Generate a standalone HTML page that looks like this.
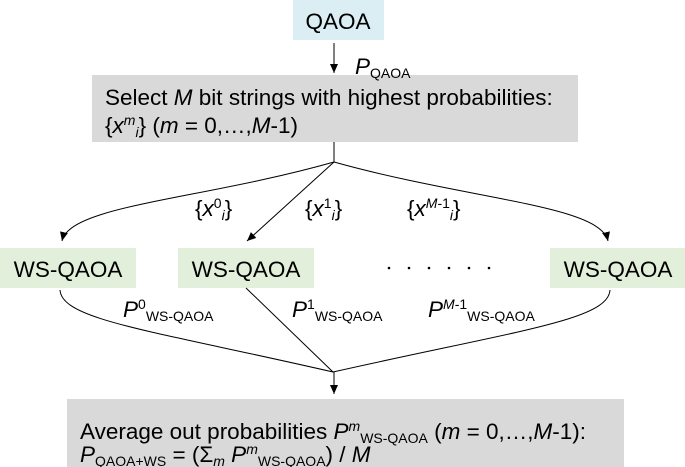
<!DOCTYPE html>
<html><head><style>
body{margin:0;width:685px;height:467px;background:#fff;position:relative;overflow:hidden;font-family:"Liberation Sans",Arial,sans-serif;color:#000}
.b{position:absolute}
svg{position:absolute;left:0;top:0}
</style></head><body>
<div class="b" style="left:293px;top:0;width:91px;height:40px;background:#dbeef4"></div>
<div class="b" style="left:92px;top:75px;width:486px;height:67px;background:#d9d9d9"></div>
<div class="b" style="left:0;top:248px;width:136px;height:40px;background:#e2efda"></div>
<div class="b" style="left:178px;top:248px;width:136px;height:40px;background:#e2efda"></div>
<div class="b" style="left:550px;top:248px;width:135px;height:40px;background:#e2efda"></div>
<div class="b" style="left:67px;top:399px;width:557px;height:68px;background:#d9d9d9"></div>
<svg width="685" height="467" viewBox="0 0 685 467">
<defs><marker id="a" markerWidth="10" markerHeight="10" refX="9" refY="5" orient="auto" markerUnits="userSpaceOnUse"><path d="M0,1 L9,5 L0,9 z" fill="#000"/></marker></defs>
<g stroke="#000" stroke-width="1" fill="none">
<line x1="334" y1="43" x2="334" y2="73" marker-end="url(#a)"/>
<line x1="334" y1="142" x2="334" y2="162"/>
<path d="M334,162 C200,200 70,205 62,241" marker-end="url(#a)"/>
<line x1="334" y1="162" x2="247" y2="241" marker-end="url(#a)"/>
<path d="M334,162 C470,200 600,205 608,241" marker-end="url(#a)"/>
<path d="M60,290 C62,320 150,330 333,372"/>
<line x1="246" y1="288" x2="333" y2="372"/>
<path d="M610,290 C608,320 520,330 333,372"/>
<line x1="334" y1="372" x2="334" y2="394" marker-end="url(#a)"/>
</g>
<g fill="#000">
<circle cx="389" cy="268" r="1.3"/><circle cx="409" cy="268" r="1.3"/><circle cx="429" cy="268" r="1.3"/><circle cx="449" cy="268" r="1.3"/><circle cx="469" cy="268" r="1.3"/><circle cx="489" cy="268" r="1.3"/>
</g>
<g font-family="Liberation Sans, Arial, sans-serif" font-size="22.5">
<text x="338" y="29" text-anchor="middle">QAOA</text>
<text x="355" y="74" font-style="italic">P<tspan font-size="14" font-style="normal" dy="4">QAOA</tspan></text>
<text x="105" y="105">Select <tspan font-style="italic">M</tspan> bit strings with highest probabilities:</text>
<text x="105" y="133">{<tspan font-style="italic">x<tspan font-size="14" dy="-8">m</tspan><tspan font-size="14" dy="12">i</tspan></tspan><tspan dy="-4">} (</tspan><tspan font-style="italic">m</tspan> = 0,…,<tspan font-style="italic">M</tspan>-1)</text>
<text x="195" y="216">{<tspan font-style="italic">x</tspan><tspan font-size="14" dy="-8">0</tspan><tspan font-size="14" font-style="italic" dy="12">i</tspan><tspan dy="-4">}</tspan></text>
<text x="305" y="216">{<tspan font-style="italic">x</tspan><tspan font-size="14" dy="-8">1</tspan><tspan font-size="14" font-style="italic" dy="12">i</tspan><tspan dy="-4">}</tspan></text>
<text x="407" y="216">{<tspan font-style="italic">x</tspan><tspan font-size="14" font-style="italic" dy="-8">M</tspan><tspan font-size="14" dy="0">-1</tspan><tspan font-size="14" font-style="italic" dy="12">i</tspan><tspan dy="-4">}</tspan></text>
<text x="68" y="277" text-anchor="middle">WS-QAOA</text>
<text x="246" y="277" text-anchor="middle">WS-QAOA</text>
<text x="618" y="277" text-anchor="middle">WS-QAOA</text>
<text x="123" y="317"><tspan font-style="italic">P</tspan><tspan font-size="14" dy="-8">0</tspan><tspan font-size="14" dy="12">WS-QAOA</tspan></text>
<text x="292" y="317"><tspan font-style="italic">P</tspan><tspan font-size="14" dy="-8">1</tspan><tspan font-size="14" dy="12">WS-QAOA</tspan></text>
<text x="428" y="317"><tspan font-style="italic">P</tspan><tspan font-size="14" font-style="italic" dy="-8">M</tspan><tspan font-size="14">-1</tspan><tspan font-size="14" dy="12">WS-QAOA</tspan></text>
<text x="80" y="439">Average out probabilities <tspan font-style="italic">P</tspan><tspan font-size="14" font-style="italic" dy="-8">m</tspan><tspan font-size="14" dy="12">WS-QAOA</tspan><tspan dy="-4"> (</tspan><tspan font-style="italic">m</tspan> = 0,…,<tspan font-style="italic">M</tspan>-1):</text>
<text x="80" y="462"><tspan font-style="italic">P</tspan><tspan font-size="14" dy="4">QAOA+WS</tspan><tspan dy="-4"> = (Σ</tspan><tspan font-size="14" font-style="italic" dy="4">m</tspan><tspan dy="-4" font-style="italic"> P</tspan><tspan font-size="14" font-style="italic" dy="-8">m</tspan><tspan font-size="14" dy="12">WS-QAOA</tspan><tspan dy="-4">) / </tspan><tspan font-style="italic">M</tspan></text>
</g>
</svg>
</body></html>
